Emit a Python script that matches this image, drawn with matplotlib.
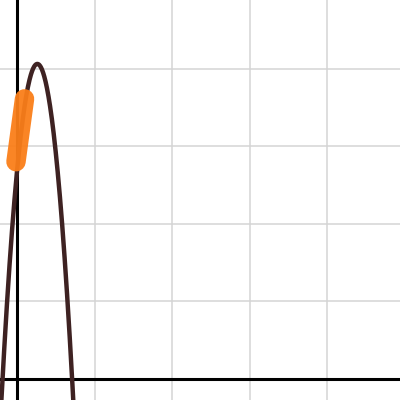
import matplotlib
matplotlib.use("Agg")
import matplotlib.pyplot as plt
import numpy as np

# parabola: y = top - k * (x - peak_x)^2
peak_x = 0.262
peak_y = 4.06
k = 20.2

# thick orange segment (two end points)
seg_x = [-0.013, 0.097]
seg_y = [2.80, 3.61]

grid_x = [1, 2, 3, 4]
grid_y = [1, 2, 3, 4]

fig = plt.figure(figsize=(4, 4), dpi=100)
ax = fig.add_axes([0, 0, 1, 1])

for gx in grid_x:
    ax.axvline(gx, color="#d4d4d4", lw=1.1, zorder=1)
for gy in grid_y:
    ax.axhline(gy, color="#d4d4d4", lw=1.1, zorder=1)
ax.axvline(0, color="black", lw=2.2, zorder=2)
ax.axhline(0, color="black", lw=2.2, zorder=2)

xs = np.linspace(-0.3, 0.85, 400)
ax.plot(xs, peak_y - k * (xs - peak_x) ** 2, color="#3e2222", lw=3.2,
        solid_capstyle="round", zorder=3)
ax.plot(seg_x, seg_y, color="#fa7e19", lw=14, solid_capstyle="round",
        alpha=0.95, zorder=4)

ax.set_xlim(-0.219, 4.936)
ax.set_ylim(-0.271, 4.884)
ax.set_xticks([])
ax.set_yticks([])
for s in ax.spines.values():
    s.set_visible(False)

fig.savefig("out.png", dpi=100)
